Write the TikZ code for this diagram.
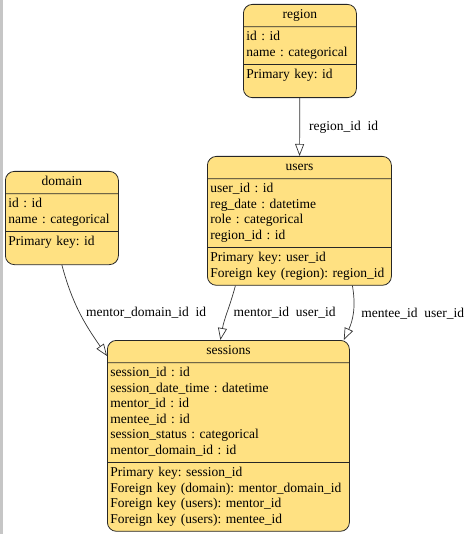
\documentclass[tikz,border=0pt]{standalone}
\usepackage{fontspec}
\setmainfont{Liberation Serif}
\usetikzlibrary{positioning,shapes.multipart,arrows.meta}
\definecolor{tfond}{HTML}{FFE182}
\definecolor{ttrait}{HTML}{333333}
\newcommand{\erfont}{\rmfamily\fontsize{13.5}{15.5}\selectfont\frenchspacing
  \raggedright\hyphenpenalty=10000\exhyphenpenalty=10000}
\newcommand{\titre}[1]{\hfill\strut #1\hfill\null}

\begin{document}
\begin{tikzpicture}[
    x=1pt, y=-1pt,
    >={Triangle[open,length=12pt,width=9pt]},
    entite/.style={draw=black!85, line width=0.8pt, fill=tfond,
                   rounded corners=9pt, rectangle split, rectangle split parts=3,
                   align=left, inner xsep=3pt, inner ysep=3pt,
                   anchor=north west, font=\erfont},
    lien/.style={->, draw=ttrait, line width=0.7pt},
    etiquette/.style={font=\erfont, inner sep=0pt}
  ]
  \useasboundingbox (0,0) rectangle (474,534);
  \fill[gray!45] (0,0) rectangle (2.5,534);

  \node[entite, text width=107pt] (region) at (243,4) {\titre{region}
    \nodepart{two}\strut id : id\\ name : categorical\strut
    \nodepart{three}\strut Primary key: id\\ \mbox{}};
  \node[entite, text width=107pt] (domain) at (5,171) {\titre{domain}
    \nodepart{two}\strut id : id\\ name : categorical\strut
    \nodepart{three}\strut Primary key: id\\ \mbox{}};
  \node[entite, text width=178pt] (users) at (207,156) {\titre{users}
    \nodepart{two}\strut user\_id : id\\ reg\_date : datetime\\ role : categorical\\ region\_id : id\strut
    \nodepart{three}\strut Primary key: user\_id\\ Foreign key (region): region\_id\strut};
  \node[entite, text width=236pt] (sessions) at (107,340) {\titre{sessions}
    \nodepart{two}\strut session\_id : id\\ session\_date\_time : datetime\\ mentor\_id : id\\
      mentee\_id : id\\ session\_status : categorical\\ mentor\_domain\_id : id\strut
    \nodepart{three}\strut Primary key: session\_id\\ Foreign key (domain): mentor\_domain\_id\\
      Foreign key (users): mentor\_id\\ Foreign key (users): mentee\_id\strut};

  % liens entre tables
  \draw[lien] (region) -- node[etiquette, right=9pt] {region\_id\ \ id} (users);
  \draw[lien] (domain.south) to[out=-75, in=125]
    node[etiquette, right=6pt] {mentor\_domain\_id\ \ id}
    ([yshift=-16pt]sessions.north west);
  \draw[lien] ([xshift=-64pt]users.south) to[out=-105, in=80]
    node[etiquette, right=6pt] {mentor\_id\ \ user\_id}
    ([xshift=-8pt]sessions.north);
  \draw[lien] ([xshift=53pt]users.south) to[out=-80, in=65]
    node[etiquette, right=8pt] {mentee\_id\ \ user\_id}
    ([xshift=-6pt]sessions.north east);
\end{tikzpicture}
\end{document}
